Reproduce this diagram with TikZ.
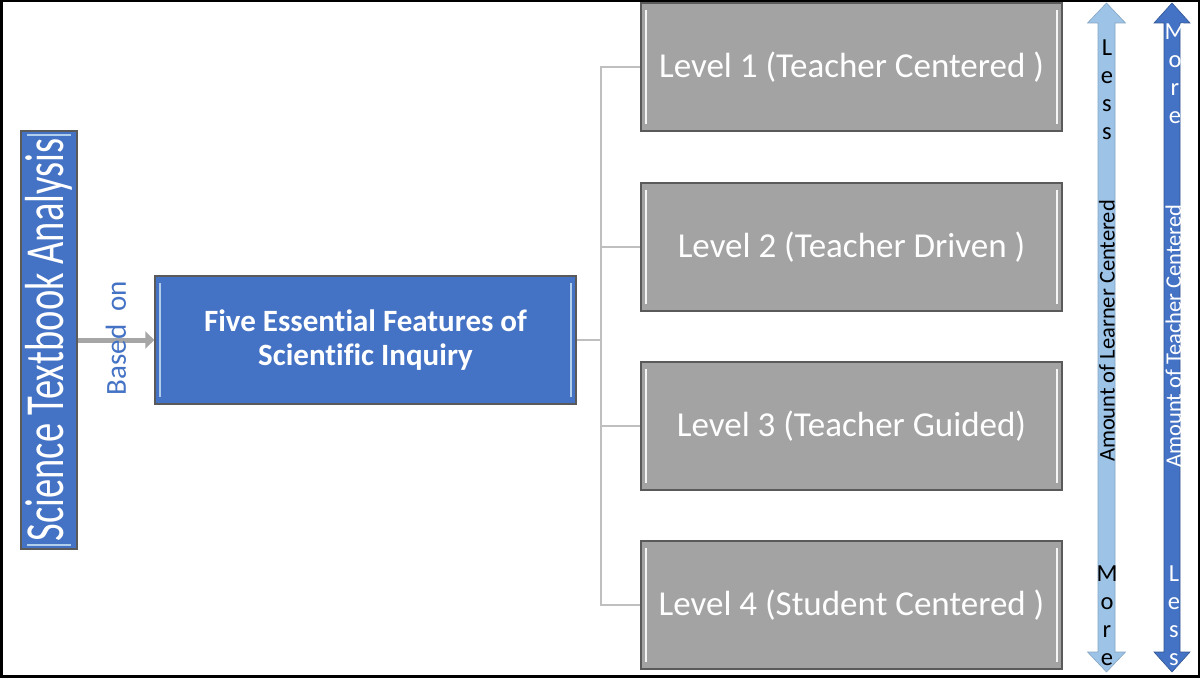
\documentclass[tikz,border=0pt]{standalone}
\usepackage{fontspec}
\setmainfont{Carlito}[Ligatures=NoCommon]
\usetikzlibrary{arrows.meta}
\definecolor{mblue}{HTML}{4472C4}
\definecolor{lblue}{HTML}{9DC3E6}
\definecolor{boxgray}{HTML}{A3A3A3}
\definecolor{conngray}{HTML}{BFBFBF}
\definecolor{edgegray}{HTML}{5A5A5A}
\definecolor{arrgray}{HTML}{A6A6A6}
\tikzset{
  bevel/.style={path picture={
    \draw[#1, line width=1.8pt]
      ([xshift=5pt,yshift=-7pt]path picture bounding box.north west) --
      ([xshift=5pt,yshift=7pt]path picture bounding box.south west);
    \draw[#1, line width=1.8pt]
      ([xshift=-5pt,yshift=-7pt]path picture bounding box.north east) --
      ([xshift=-5pt,yshift=7pt]path picture bounding box.south east);
  }},
  levelbox/.style={draw=edgegray, line width=1.3pt, fill=boxgray,
    minimum width=421pt, minimum height=128pt, inner sep=0pt,
    text=white, font=\fontsize{35}{35}\selectfont, bevel=white!92!gray},
  mainbox/.style={draw=edgegray, line width=1.3pt, fill=mblue,
    minimum width=421pt, minimum height=128pt, inner sep=0pt,
    text=white, align=center, font=\bfseries\fontsize{31}{34}\selectfont,
    bevel=lblue!80!white},
  sidebox/.style={draw=edgegray, line width=1.3pt, fill=mblue,
    minimum width=418pt, minimum height=56pt, inner sep=0pt,
    text=white, rotate=90},
  conn/.style={draw=conngray, line width=1.6pt},
  grayarrow/.style={draw=arrgray, line width=5pt,
    -{Triangle[length=9pt,width=17pt]}},
  vlabel/.style={rotate=90, inner sep=0pt, font=\fontsize{22.5}{22.5}\selectfont},
  stack/.style={anchor=north, align=center, inner sep=0pt,
    font=\fontsize{24.5}{27.7}\selectfont},
}
\begin{document}
\begin{tikzpicture}[x=1pt,y=-1pt]
\useasboundingbox (0,0) rectangle (1200,679);
\fill[white] (0,0) rectangle (1200,679);
\draw[black, line width=2.5pt] (1.25,1.25) rectangle (1198.75,676.5);

% left box
\node[sidebox] (sta) at (49,340)
  {\scalebox{0.7}[1]{\fontsize{55}{55}\selectfont Science Textbook Analysis}};
\draw[lblue!80!white, line width=1.8pt] (27,135) -- (71,135);
\draw[lblue!80!white, line width=1.8pt] (27,545) -- (71,545);

% main box
\node[mainbox] (main) at (365.5,340)
  {Five Essential Features of\\Scientific Inquiry};

\draw[grayarrow] (sta) -- (main);
\node[rotate=90, text=mblue, font=\fontsize{29}{29}\selectfont, inner sep=0pt]
  (based) at (116,338) {Based\ \ on};

% levels
\node[levelbox] (L1) at (851.5,67) {Level 1 (Teacher Centered )};
\node[levelbox] (L2) at (851.5,247) {Level 2 (Teacher Driven )};
\node[levelbox] (L3) at (851.5,426) {Level 3 (Teacher Guided)};
\node[levelbox] (L4) at (851.5,605) {Level 4 (Student Centered )};

\coordinate (hub) at (601,340);
\draw[conn] (main.east) -- (hub);
\draw[conn] (hub) |- (L1.west);
\draw[conn] (hub) |- (L2.west);
\draw[conn] (hub) |- (L3.west);
\draw[conn] (hub) |- (L4.west);

% right arrows
\filldraw[fill=lblue, draw=lblue!85!black, line width=0.6pt]
  (1106.5,3) -- (1125.5,23) -- (1115,23) -- (1115,652) -- (1125.5,652)
  -- (1106.5,672) -- (1087.5,652) -- (1098,652) -- (1098,23) -- (1087.5,23) -- cycle;
\filldraw[fill=mblue, draw=mblue!75!black, line width=0.6pt]
  (1172,3) -- (1190,23) -- (1180,23) -- (1180,652) -- (1190,652)
  -- (1172,672) -- (1154,652) -- (1164,652) -- (1164,23) -- (1154,23) -- cycle;

\node[vlabel, text=black] (learner) at (1107,331) {Amount of Learner Centered};
\node[vlabel, text=white] (teacher) at (1173.5,336) {Amount of Teacher Centered};

\node[stack, text=black] (lessL) at (1107,40) {L\\e\\s\\s};
\node[stack, text=black] (moreL) at (1107,566) {M\\o\\r\\e};
\node[stack, text=white] (moreT) at (1175,24) {M\\o\\r\\e};
\node[stack, text=white] (lessT) at (1174,566) {L\\e\\s\\s};
\end{tikzpicture}
\end{document}
